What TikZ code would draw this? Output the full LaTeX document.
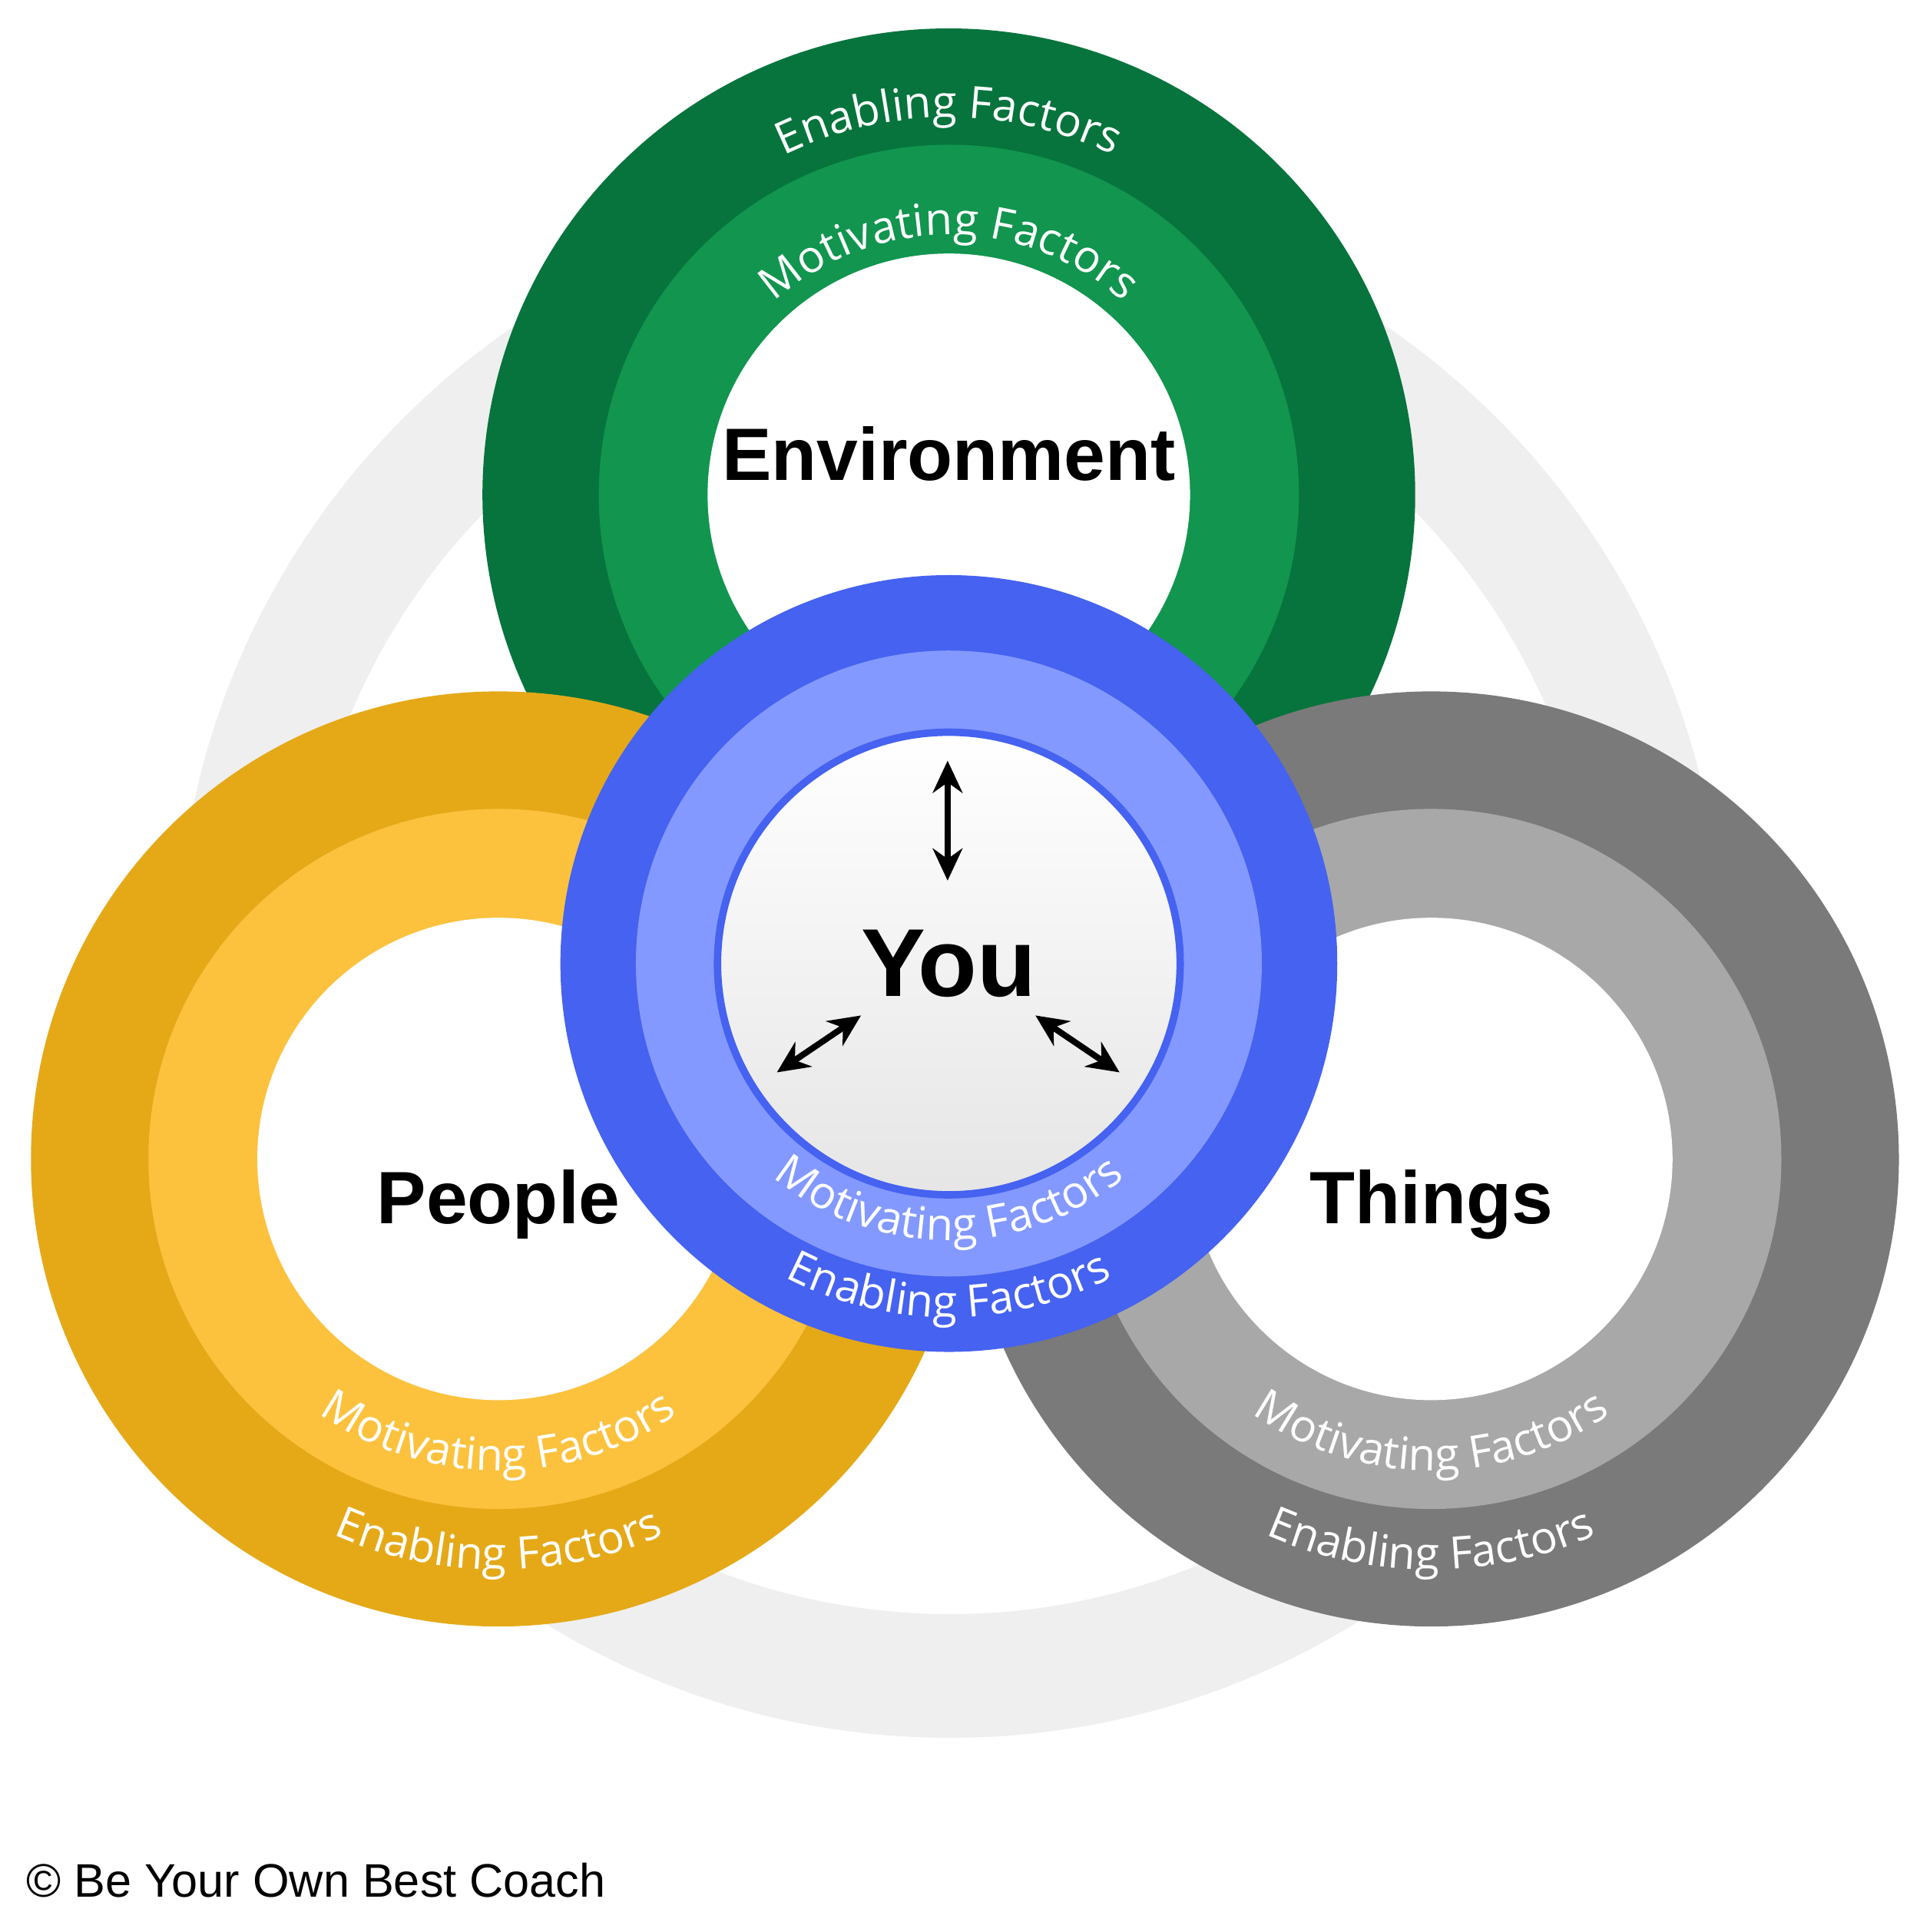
\documentclass[tikz,border=0pt]{standalone}
\usepackage{fontspec}
\setmainfont{Liberation Sans}
\newfontfamily\cfont{Open Sans}
\usetikzlibrary{decorations.text,arrows.meta}
\definecolor{bgring}{HTML}{EFEFEF}
\definecolor{gA}{HTML}{06743C}\definecolor{gB}{HTML}{11954F}
\definecolor{yA}{HTML}{E5A918}\definecolor{yB}{HTML}{FCC23E}
\definecolor{kA}{HTML}{7A7A7A}\definecolor{kB}{HTML}{A8A8A8}
\definecolor{bA}{HTML}{4562F0}\definecolor{bB}{HTML}{8399FF}
\tikzset{
 toptext/.style={decorate,decoration={text along path,text align=center,text={|\fontsize{36}{36}\cfont\color{white}|#1}}},
 lbl/.style={font=\fontsize{60}{60}\selectfont\bfseries},
 dbl/.style={{Stealth[length=26pt,width=24pt]}-{Stealth[length=26pt,width=24pt]},line width=5pt}
}
\begin{document}
\begin{tikzpicture}[x=1pt,y=1pt]
\useasboundingbox (0,0) rectangle (1552,1562);
\fill[white] (0,0) rectangle (1552,1562);
\fill[bgring,even odd rule] (768,782) circle (625) (768,782) circle (525);
\fill[gA] (767,1162) circle (377);
\fill[gB] (767,1162) circle (283);
\fill[white] (767,1162) circle (195);
\fill[yA] (403,625) circle (378);
\fill[yB] (403,625) circle (283);
\fill[white] (403,625) circle (195);
\fill[kA] (1157,625) circle (378);
\fill[kB] (1157,625) circle (283);
\fill[white] (1157,625) circle (195);
\fill[bA] (767,783) circle (314);
\fill[bB] (767,783) circle (253);
\shade[top color=white,bottom color=black!10,draw=bA,line width=6pt] (767,783) circle (187);
\node[lbl] (env) at (767,1195) {Environment};
\node[lbl] (peo) at (403,588) {People};
\node[lbl] (thi) at (1157,588) {Things};
\node[lbl,font=\fontsize{78}{78}\selectfont\bfseries] (you) at (767,783) {You};
\path[toptext={Enabling Factors}] (767,1162) ++(165:305) arc (165:15:305);
\path[toptext={Motivating Factors}] (767,1162) ++(165:210) arc (165:15:210);
\path[toptext={Motivating Factors}] (403,625) ++(200:252) arc (200:340:252);
\path[toptext={Enabling Factors}] (403,625) ++(200:332) arc (200:340:332);
\path[toptext={Motivating Factors}] (1157,625) ++(200:252) arc (200:340:252);
\path[toptext={Enabling Factors}] (1157,625) ++(200:332) arc (200:340:332);
\path[toptext={Motivating Factors}] (767,783) ++(200:224) arc (200:340:224);
\path[toptext={Enabling Factors}] (767,783) ++(200:286) arc (200:340:286);
\coordinate (a1) at (766,947); \coordinate (a2) at (766,850);
\coordinate (b1) at (696,741); \coordinate (b2) at (628,695);
\coordinate (c1) at (837,741); \coordinate (c2) at (905,695);
\draw[dbl] (a1) -- (a2);
\draw[dbl] (b1) -- (b2);
\draw[dbl] (c1) -- (c2);
\node[anchor=west,font=\fontsize{38}{38}\selectfont] (copy) at (18,42) {© Be Your Own Best Coach};
\end{tikzpicture}
\end{document}
